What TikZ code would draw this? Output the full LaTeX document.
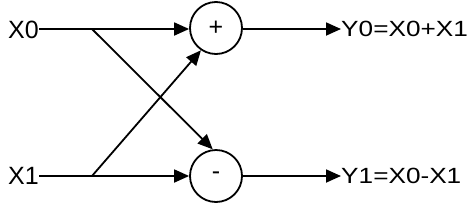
\documentclass[tikz,border=0pt]{standalone}
\usepackage{fontspec}
\setmainfont{Liberation Sans}
\usetikzlibrary{positioning,arrows.meta}

\begin{document}
\begin{tikzpicture}[
    x=1pt, y=-1pt,
    wire/.style={line width=1.8pt},
    sig/.style={wire, -{Triangle[length=15pt,width=13pt]}},
    sum/.style={draw, circle, line width=1.8pt, minimum size=52pt, inner sep=0pt,
                font=\fontsize{25}{25}\selectfont},
    lbl/.style={inner sep=0pt, font=\fontsize{25}{25}\selectfont},
    outlbl/.style={inner sep=0pt, anchor=west, font=\fontsize{22}{22}\selectfont,
                   xscale=1.19, transform shape},
]
\useasboundingbox (0,0) rectangle (474,204);

% Inputs and branch points
\node[lbl, anchor=east] (x0) at (39,30) {X0};
\node[lbl, anchor=east] (x1) at (39,176) {X1};
\coordinate (b0) at (92,29);
\coordinate (b1) at (92,176);

% Adder and subtractor
\node[sum] (plus) at (216,28) {+};
\node[sum] (minus) at (216,176) {-};

% Outputs
\node[outlbl] (y0) at (341,29) {Y0=X0+X1};
\node[outlbl] (y1) at (341,176) {Y1=X0-X1};

% Butterfly wiring
\draw[wire] (x0.east |- b0) -- (b0);
\draw[wire] (x1) -- (b1);
\draw[sig] (b0) -- (b0 -| plus.west);
\draw[sig] (b1) -- (minus);
\draw[sig] (b0) -- (minus.97);
\draw[sig] (b1) -- (plus.236);
\draw[sig] (plus.east |- y0) -- (y0.west);
\draw[sig] (minus) -- (y1.west);
\end{tikzpicture}
\end{document}
